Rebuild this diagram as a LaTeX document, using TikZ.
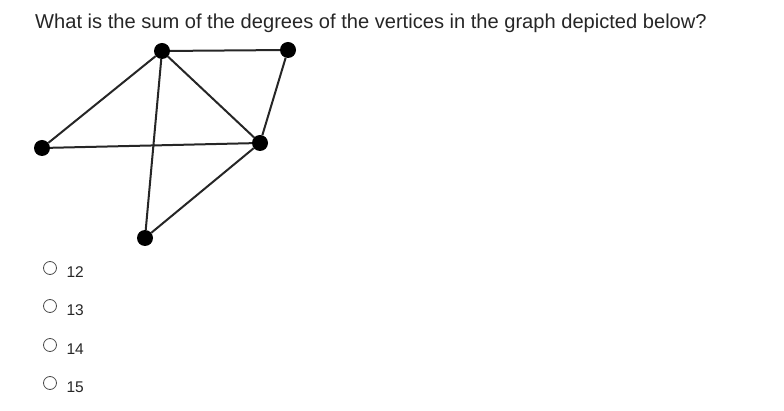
\documentclass[tikz,border=0pt]{standalone}
\usepackage{fontspec}
\setmainfont{Liberation Sans}
\begin{document}
\begin{tikzpicture}[x=1pt,y=-1pt,
  vert/.style={circle,fill=black,inner sep=0pt,minimum size=16pt},
  edge/.style={line width=2pt,black!85},
  radio/.style={circle,draw=black!70,line width=0.8pt,inner sep=0pt,minimum size=13pt},
  opt/.style={anchor=west,font=\fontsize{15.5}{17}\selectfont,text=black!85}]
\useasboundingbox (0,0) rectangle (784,411);
\node[anchor=west,font=\fontsize{20.1}{22}\selectfont,text=black!85,inner sep=0pt] (q) at (35,23) {What is the sum of the degrees of the vertices in the graph depicted below?};
\node[vert] (a) at (162,51) {};
\node[vert] (b) at (288,50) {};
\node[vert] (c) at (42,148) {};
\node[vert] (d) at (260,143) {};
\node[vert] (e) at (145,238) {};
\draw[edge] (a)--(b) (a)--(c) (a)--(d) (a)--(e) (b)--(d) (c)--(d) (d)--(e);
\foreach \y/\t [count=\i] in {268/12,306/13,345/14,383/15}{
  \node[radio] (r\i) at (50,\y) {};
  \node[opt] (o\i) at (63,\y+4) {\t};
}
\end{tikzpicture}
\end{document}
